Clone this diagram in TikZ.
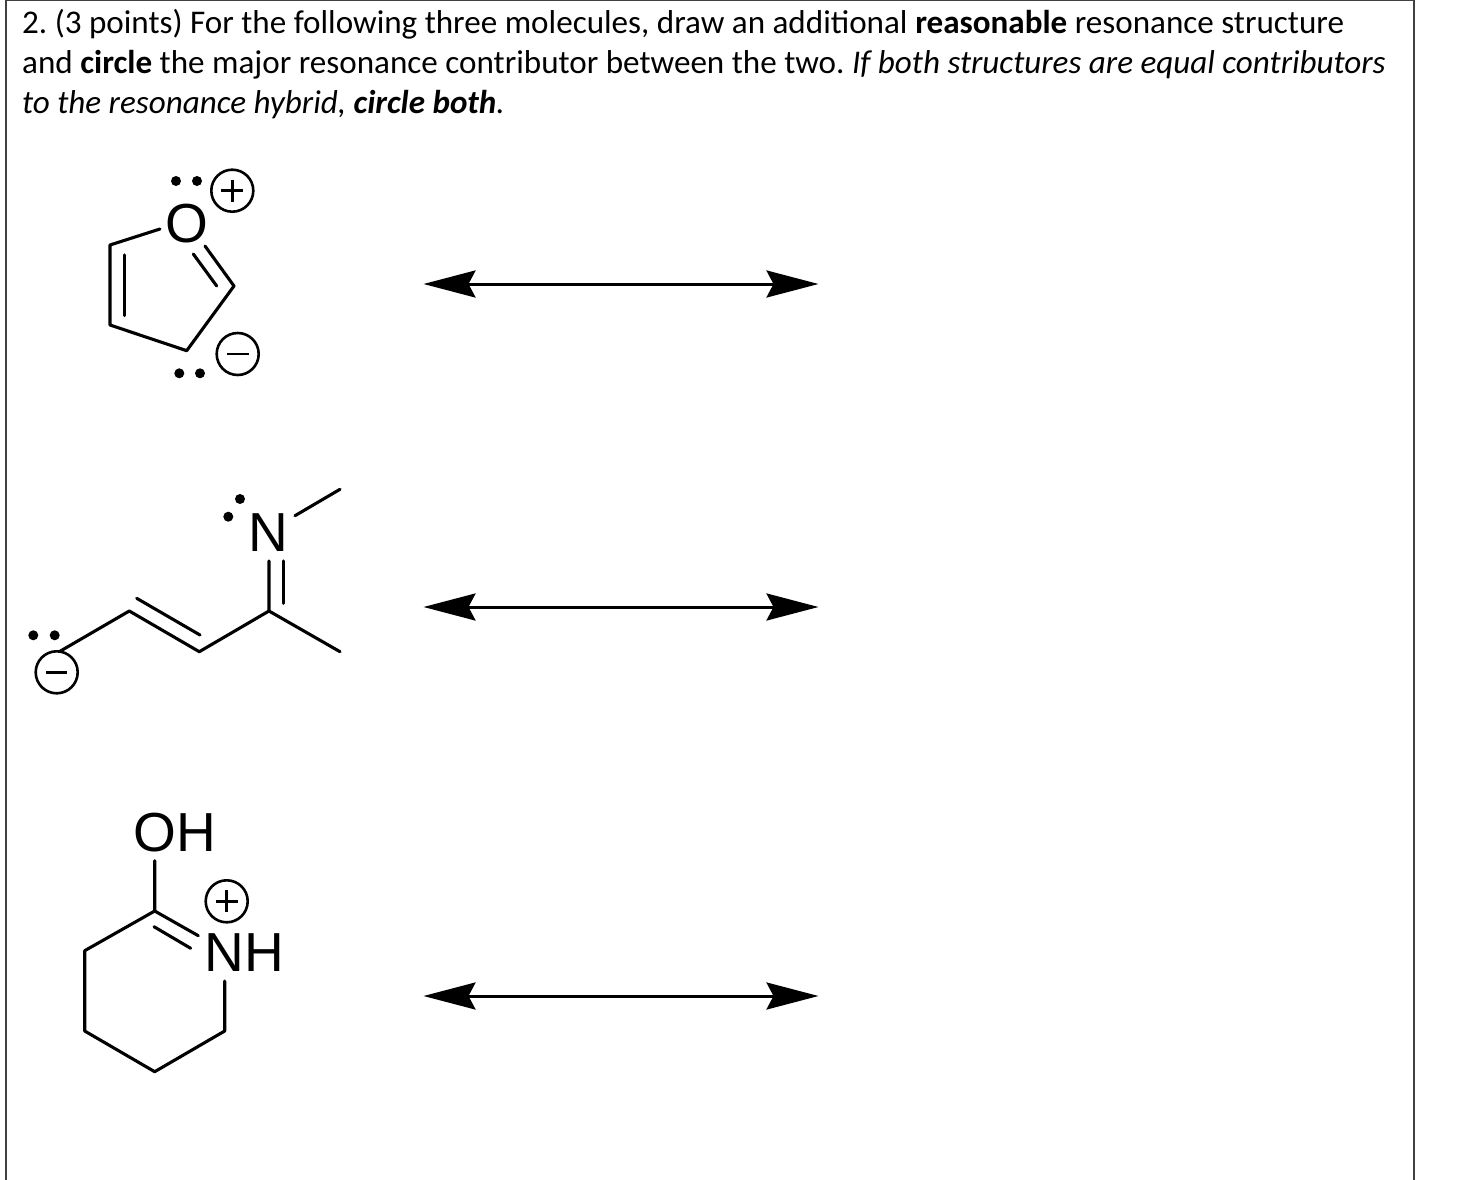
\documentclass[tikz,border=0pt]{standalone}
\usepackage{fontspec}
\setmainfont{Carlito}
\newfontfamily\chemfont{Liberation Sans}
\usetikzlibrary{arrows.meta}
\tikzset{
  bond/.style={line width=3.1pt,line cap=round,line join=round},
  atom/.style={font=\chemfont\fontsize{55}{55}\selectfont,inner sep=0pt},
  lone/.style={circle,fill=black,inner sep=0pt,minimum size=10pt},
  charge/.style={circle,draw,line width=2.6pt,inner sep=0pt,minimum size=42pt},
  sign/.style={line width=2.6pt},
  reso/.style={line width=3pt,{Stealth[length=52pt,width=27pt,inset=7pt]}-{Stealth[length=52pt,width=27pt,inset=7pt]}},
  para/.style={anchor=base west,inner sep=0pt,font=\frenchspacing\fontsize{33.1}{33.1}\selectfont},
  frameline/.style={line width=2pt,draw=black!75}
}
\begin{document}
\begin{tikzpicture}[x=1pt,y=-1pt]
\useasboundingbox (0,0) rectangle (1459,1180);
% frame
\coordinate (fa) at (6,1180);
\coordinate (fb) at (6,0.5);
\coordinate (fc) at (1414,0.5);
\coordinate (fd) at (1414,1180);
\draw[frameline] (fa) -- (fb) -- (fc) -- (fd);
% text
\node[para] (t1) at (22,34) {2. (3 points) For the following three molecules, draw an additional \textbf{reasonable} resonance structure};
\node[para] (t2) at (22,74) {and \textbf{circle} the major resonance contributor between the two. \textit{If both structures are equal contributors}};
\node[para] (t3) at (22,114) {\textit{to the resonance hybrid, }\textbf{\textit{circle both}}\textit{.}};
% molecule 1
\node[atom] (O1) at (186.7,224) {O};
\coordinate (a1) at (160,229);
\coordinate (a2) at (110,245);
\coordinate (a3) at (110,325);
\coordinate (a4) at (186.7,350.7);
\coordinate (a5) at (234,286);
\coordinate (a6) at (205,246);
\draw[bond] (a1) -- (a2) -- (a3) -- (a4) -- (a5) -- (a6);
\coordinate (a7) at (124.7,255);
\coordinate (a8) at (124.7,315.7);
\draw[bond] (a7) -- (a8);
\coordinate (a9) at (193.3,254);
\coordinate (a10) at (216.7,286);
\draw[bond] (a9) -- (a10);
\node[lone] (d1) at (176,181) {};
\node[lone] (d2) at (197,181) {};
\node[lone] (d3) at (179.3,373.3) {};
\node[lone] (d4) at (200,373.3) {};
\node[charge] (p1) at (232.3,190.7) {};
\draw[sign] ([xshift=-11pt]p1.center) -- ([xshift=11pt]p1.center);
\draw[sign] ([yshift=-11pt]p1.center) -- ([yshift=11pt]p1.center);
\node[charge] (m1) at (237.7,354) {};
\draw[sign] ([xshift=-11pt]m1.center) -- ([xshift=11pt]m1.center);
% molecule 2
\node[atom] (N2) at (268.3,532.7) {N};
\coordinate (b1) at (295,515.7);
\coordinate (b2) at (340,489.3);
\draw[bond] (b1) -- (b2);
\coordinate (b3) at (269,561);
\coordinate (b4) at (269,611);
\coordinate (b5) at (340,651.7);
\coordinate (b6) at (199.3,651.7);
\coordinate (b7) at (129.3,611);
\coordinate (b8) at (59.3,651.7);
\draw[bond] (b3) -- (b4) -- (b5);
\draw[bond] (b4) -- (b6) -- (b7) -- (b8);
\coordinate (b9) at (283.3,561);
\coordinate (b10) at (283.3,603.3);
\draw[bond] (b9) -- (b10);
\coordinate (b11) at (136.7,598.3);
\coordinate (b12) at (200,635);
\draw[bond] (b11) -- (b12);
\node[lone] (d5) at (240,499) {};
\node[lone] (d6) at (228.3,516.7) {};
\node[lone] (d7) at (33.3,635.3) {};
\node[lone] (d8) at (54.7,635.3) {};
\node[charge] (m2) at (56.7,672.3) {};
\draw[sign] ([xshift=-10.5pt]m2.center) -- ([xshift=10.5pt]m2.center);
% molecule 3
\node[atom] (OH3) at (174.5,832.8) {OH};
\node[atom] (NH3) at (244.5,953) {NH};
\coordinate (c1) at (154.7,860.7);
\coordinate (c2) at (154.7,911);
\coordinate (c3) at (84.7,950.7);
\coordinate (c4) at (84.7,1031);
\coordinate (c5) at (154.7,1071.7);
\coordinate (c6) at (224.7,1031);
\coordinate (c7) at (224.7,981);
\coordinate (c8) at (198.3,935.7);
\coordinate (c9) at (154,926.7);
\coordinate (c10) at (190.7,948.3);
\draw[bond] (c1) -- (c2) -- (c3) -- (c4) -- (c5) -- (c6) -- (c7);
\draw[bond] (c2) -- (c8);
\draw[bond] (c9) -- (c10);
\node[charge] (p3) at (226.7,901.3) {};
\draw[sign] ([xshift=-11pt]p3.center) -- ([xshift=11pt]p3.center);
\draw[sign] ([yshift=-11pt]p3.center) -- ([yshift=11pt]p3.center);
% resonance arrows
\coordinate (r1l) at (423.5,284);
\coordinate (r1r) at (818.5,284);
\coordinate (r2l) at (423.5,607);
\coordinate (r2r) at (818.5,607);
\coordinate (r3l) at (423.5,996);
\coordinate (r3r) at (818.5,996);
\draw[reso] (r1l) -- (r1r);
\draw[reso] (r2l) -- (r2r);
\draw[reso] (r3l) -- (r3r);
\end{tikzpicture}
\end{document}
